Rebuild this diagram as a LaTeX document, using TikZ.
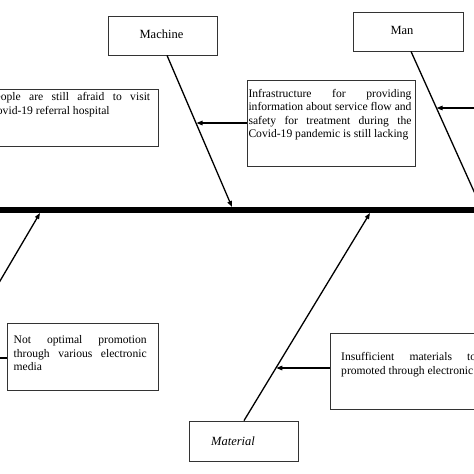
\documentclass[tikz,border=0pt]{standalone}
\usepackage{fontspec}
\setmainfont{Liberation Serif}
\usetikzlibrary{arrows.meta,calc}
\begin{document}
\begin{tikzpicture}[x=1pt,y=-1pt,
  box/.style={draw=black!80, line width=0.8pt, inner sep=0pt},
  lab/.style={inner sep=0pt, font=\fontsize{12.5}{14}\selectfont},
  txt/.style={inner sep=0pt, align=left, anchor=north west, font=\fontsize{11.6}{13.4}\selectfont},
  bone/.style={line width=1.3pt, -{Triangle[length=6pt,width=4.5pt]}},
  cause/.style={line width=1.2pt, -{Triangle[length=6pt,width=4.5pt]}},
  spine/.style={line width=5.5pt}]
\useasboundingbox (0,0) rectangle (474,474);
\clip (0,0) rectangle (474,474);
% boxes
\node[box, minimum width=109pt, minimum height=39pt] (machine) at (162.5,35.5) {};
\node[box, minimum width=110pt, minimum height=39pt] (man) at (408,31.5) {};
\node[box, minimum width=168pt, minimum height=86pt] (infra) at (331,123) {};
\node[box, minimum width=171pt, minimum height=57pt] (people) at (72.5,117.5) {};
\node[box, minimum width=151pt, minimum height=67pt] (notopt) at (82.5,356.5) {};
\node[box, minimum width=109pt, minimum height=40pt] (material) at (243.5,441) {};
\node[box, minimum width=182pt, minimum height=76pt] (insuf) at (421,371) {};
% labels
\node[lab] (machinelab) at (161.5,34.5) {Machine};
\node[lab] (manlab) at (402,30.5) {Man};
\node[lab] (materiallab) at (233,441) {\itshape Material};
% texts
\node[txt] (infratxt) at (248.3,89) {\makebox[163pt][s]{Infrastructure for providing}\\
  \makebox[163pt][s]{information about service flow and}\\
  \makebox[163pt][s]{safety for treatment during the}\\
  Covid-19 pandemic is still lacking};
\node[txt] (peopletxt) at (-11,92.5) {\makebox[161pt][s]{People are still afraid to visit}\\
  Covid-19 referral hospital};
\node[txt] (notopttxt) at (13.5,335.5) {\makebox[133pt][s]{Not optimal promotion}\\
  \makebox[133pt][s]{through various electronic}\\
  media};
\node[txt] (insuftxt) at (341,352.5) {\makebox[161pt][s]{Insufficient materials to be}\\
  promoted through electronic media};
% spine
\coordinate (spL) at (-5,210);
\coordinate (spR) at (480,210);
\draw[spine] (spL) -- (spR);
% bone tips
\coordinate (mtip) at (232,207);
\coordinate (mantip) at (481,207);
\coordinate (mattip) at (370,213);
\coordinate (lltip) at (40,213);
\coordinate (llstart) at (-70,400);
% bones
\draw[bone] ([xshift=4.5pt]machine.south) -- (mtip);
\draw[bone] ([xshift=3pt]man.south) -- (mantip);
\draw[bone] ([xshift=0.5pt]material.north) -- (mattip);
\draw[bone] (llstart) -- (lltip);
% causes
\coordinate (a1) at (196.5,123);
\coordinate (a2) at (436.6,108);
\coordinate (manR) at (485,108);
\coordinate (a3) at (276.3,368);
\coordinate (a4) at (-45.6,358);
\draw[cause] (infra.west) -- (a1);
\draw[cause] (manR) -- (a2);
\draw[cause] ([yshift=3pt]insuf.west) -- (a3);
\draw[cause] ([yshift=-1.5pt]notopt.west) -- (a4);
\end{tikzpicture}
\end{document}
